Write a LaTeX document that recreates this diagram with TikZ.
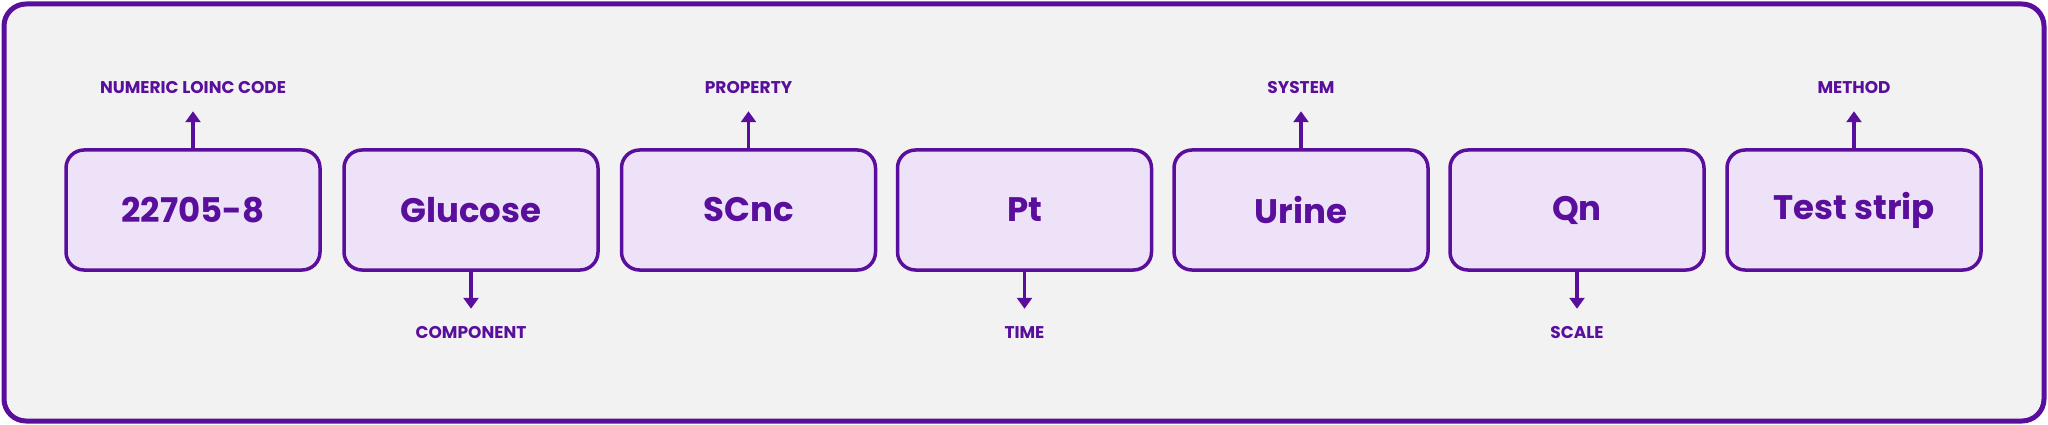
\documentclass[tikz,border=0pt]{standalone}
\usepackage{fontspec}
\setmainfont{Poppins}
\usetikzlibrary{arrows.meta}
\definecolor{pur}{HTML}{5A0E9C}
\definecolor{boxfill}{HTML}{EEE2F8}
\definecolor{bg}{HTML}{F2F2F2}
\tikzset{
  x=1pt,y=-1pt,
  part/.style={draw=pur,line width=3.5pt,fill=boxfill,rounded corners=18pt,minimum width=254pt,minimum height=120pt,text=pur,font=\fontsize{34}{40}\selectfont\bfseries},
  lab/.style={text=pur,font=\fontsize{17}{20}\selectfont\bfseries},
  arr/.style={draw=pur,line width=3.5pt,-{Triangle[length=11pt,width=15pt]}}
}
\begin{document}
\begin{tikzpicture}
\useasboundingbox (0,0) rectangle (2048,425);
\draw[pur,line width=5pt,fill=bg,rounded corners=22pt] (4,4) rectangle (2044,421);
\foreach \n/\x/\t in {a/193/22705-8, b/471/Glucose, c/748.5/SCnc, d/1024.5/Pt, e/1301/Urine, f/1577/Qn, g/1854/Test strip}
  \node[part] (\n) at (\x,210) {\t};
\foreach \n/\t in {a/NUMERIC LOINC CODE, c/PROPERTY, e/SYSTEM, g/METHOD}{
  \node[lab] (\n l) at (\n.north |- 0,88) {\t};
  \draw[arr] (\n.north) -- ++(0,-37);
}
\foreach \n/\t in {b/COMPONENT, d/TIME, f/SCALE}{
  \node[lab] (\n l) at (\n.south |- 0,333) {\t};
  \draw[arr] (\n.south) -- ++(0,37);
}
\end{tikzpicture}
\end{document}
